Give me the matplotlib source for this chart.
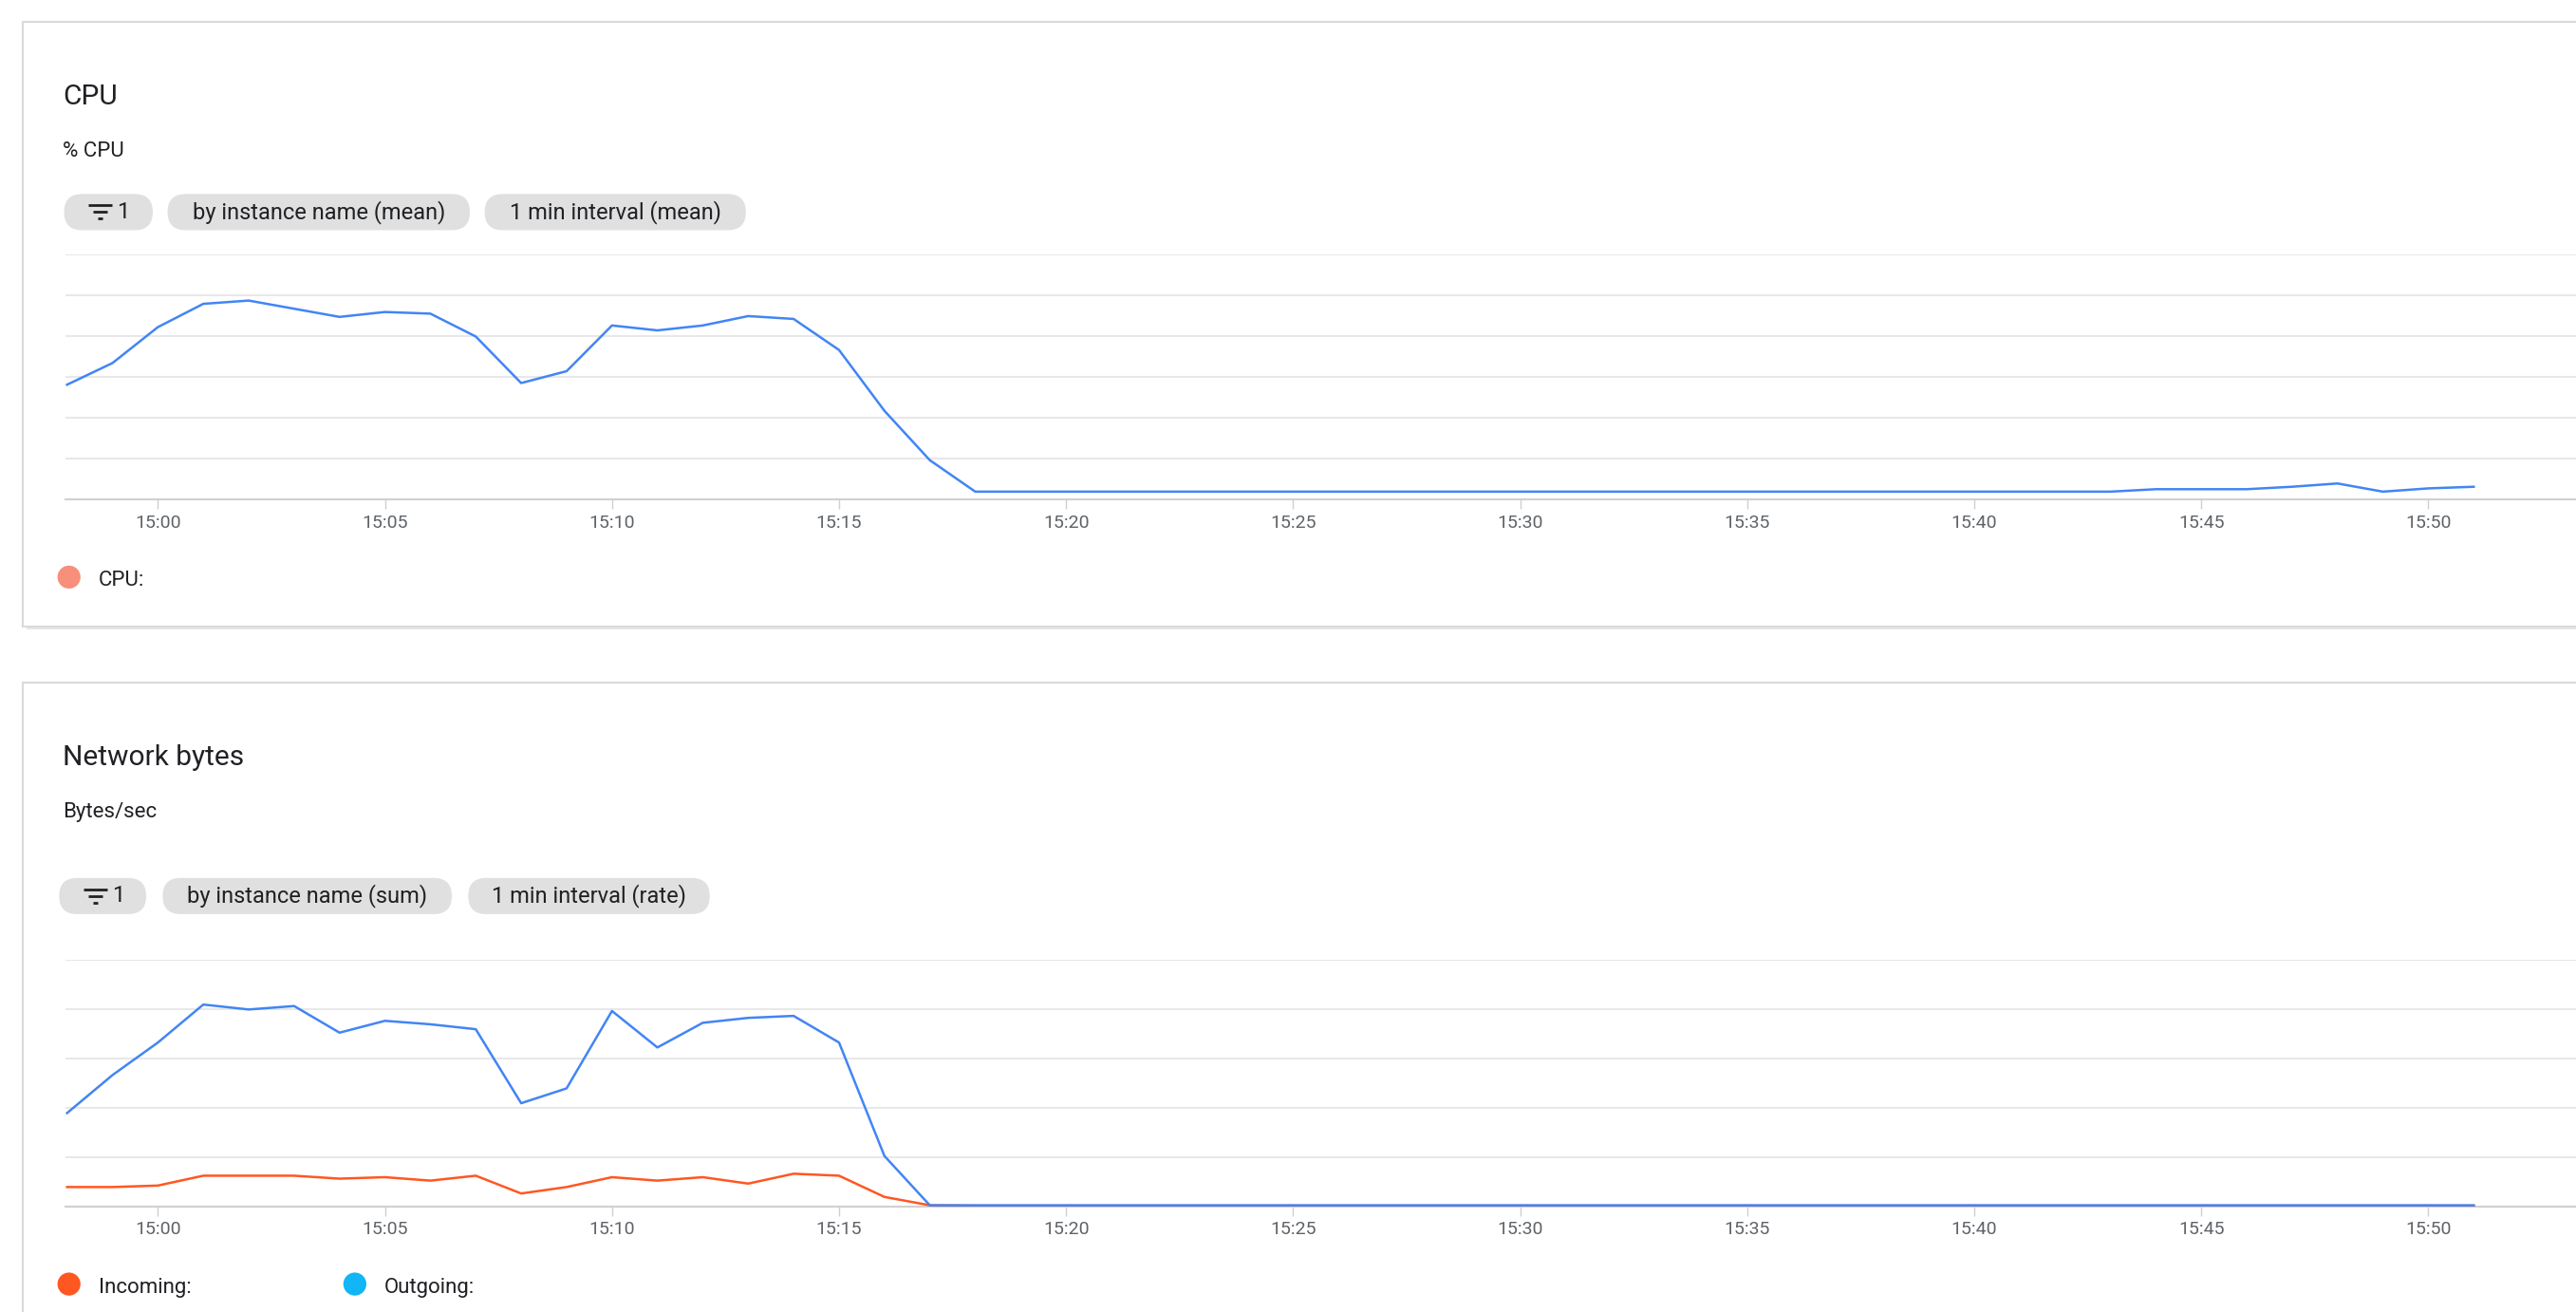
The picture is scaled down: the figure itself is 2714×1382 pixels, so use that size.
import matplotlib
matplotlib.use('Agg')
import matplotlib.pyplot as plt
from matplotlib.patches import FancyBboxPatch, Rectangle, Circle

plt.rcParams['font.family'] = ['Roboto', 'DejaVu Sans']

# ------------------------------------------------------------
# Data (minutes from 14:58, one sample per minute)
# ------------------------------------------------------------
cpu = [2.82, 3.35, 4.23, 4.80, 4.88, 4.68, 4.48, 4.60, 4.56, 4.00,
       2.86, 3.15, 4.27, 4.15, 4.27, 4.50, 4.43, 3.67, 2.18, 0.97,
       0.20, 0.20, 0.20, 0.20, 0.20, 0.20, 0.20, 0.20, 0.20, 0.20,
       0.20, 0.20, 0.20, 0.20, 0.20, 0.20, 0.20, 0.20, 0.20, 0.20,
       0.20, 0.20, 0.20, 0.20, 0.20, 0.20, 0.26, 0.26, 0.26, 0.32,
       0.40, 0.20, 0.28, 0.32]
outgoing = [1.90, 2.67, 3.33, 4.10, 4.00, 4.07, 3.53, 3.77, 3.70, 3.60,
            2.10, 2.40, 3.97, 3.23, 3.73, 3.83, 3.87, 3.33, 1.03, 0.03] + [0.03] * 34
incoming = [0.40, 0.40, 0.43, 0.63, 0.63, 0.63, 0.57, 0.60, 0.53, 0.63,
            0.27, 0.40, 0.60, 0.53, 0.60, 0.47, 0.67, 0.63, 0.20, 0.03] + [0.02] * 34
start_min = -2  # 14:58 relative to 15:00
tick_labels = ['15:00', '15:05', '15:10', '15:15', '15:20', '15:25',
               '15:30', '15:35', '15:40', '15:45', '15:50']

W, H = 1568, 798
fig = plt.figure(figsize=(27.14, 13.82), dpi=100)
bg = fig.add_axes([0, 0, 1, 1], zorder=0)
bg.set_xlim(0, W)
bg.set_ylim(H, 0)
bg.axis('off')

# cards
for top, bottom in [(13, 381), (415, 830)]:
    bg.add_patch(Rectangle((16, top + 2), W, bottom - top, facecolor='#e6e6e6', edgecolor='none'))
    bg.add_patch(Rectangle((14, top), W, bottom - top, facecolor='white', edgecolor='#dadada', lw=1.5))


def chip(x0, x1, yc, label):
    h = 22
    bg.add_patch(FancyBboxPatch((x0, yc - h / 2), x1 - x0, h,
                                boxstyle='round,pad=0,rounding_size=11',
                                facecolor='#e0e0e0', edgecolor='none'))
    if label:
        bg.text((x0 + x1) / 2, yc, label, fontsize=17, ha='center', va='center', color='#202124')


def filter_chip(x0, x1, yc):
    chip(x0, x1, yc, None)
    cx = x0 + 22
    for i, w in enumerate([7, 4.5, 1.5]):
        bg.plot([cx - w, cx + w], [yc - 4 + i * 4, yc - 4 + i * 4], color='#202124', lw=2,
                solid_capstyle='butt')
    bg.text(cx + 10, yc, '1', fontsize=17, ha='left', va='center', color='#202124')


def panel(y_title, y_sub, y_chip, sub, chips, title):
    bg.text(38, y_title, title, fontsize=21.5, ha='left', va='center', color='#202124')
    bg.text(38, y_sub, sub, fontsize=16, ha='left', va='center', color='#202124')
    filter_chip(chips[0][0], chips[0][1], y_chip)
    for x0, x1, lab in chips[1:]:
        chip(x0, x1, y_chip, lab)


panel(59, 92, 129, '% CPU',
      [(39, 93), (102, 286, 'by instance name (mean)'), (295, 454, '1 min interval (mean)')], 'CPU')
panel(461, 494, 545, 'Bytes/sec',
      [(36, 89), (99, 275, 'by instance name (sum)'), (285, 432, '1 min interval (rate)')], 'Network bytes')

# legends
bg.add_patch(Circle((42, 351), 7, facecolor='#f78f7b', edgecolor='none'))
bg.text(60, 353, 'CPU:', fontsize=16, ha='left', va='center', color='#202124')
bg.add_patch(Circle((42, 781), 7, facecolor='#ff5722', edgecolor='none'))
bg.text(60, 783, 'Incoming:', fontsize=16, ha='left', va='center', color='#202124')
bg.add_patch(Circle((216, 781), 7, facecolor='#12b5f6', edgecolor='none'))
bg.text(234, 783, 'Outgoing:', fontsize=16, ha='left', va='center', color='#202124')

px_per_min = 27.64
x_left = start_min - 0.03
x_right = x_left + (W - 40) / px_per_min


def chart(top, bottom, ymax, series):
    ax = fig.add_axes([40 / W, 1 - bottom / H, (W - 40) / W, (bottom - top) / H], zorder=1)
    ax.patch.set_alpha(0)
    for vals, color in series:
        xs = [start_min + i for i in range(len(vals))]
        ax.plot(xs, vals, color=color, lw=1.8, zorder=3)
    ax.set_xlim(x_left, x_right)
    ax.set_ylim(0, ymax)
    ax.set_yticks(range(ymax + 1))
    ax.yaxis.grid(True, color='#e8e8e8', lw=1.5)
    ax.tick_params(axis='y', left=False, labelleft=False)
    ax.set_xticks(range(0, 5 * len(tick_labels), 5))
    ax.set_xticklabels(tick_labels, fontsize=14, color='#5f6368')
    ax.tick_params(axis='x', length=7, width=1, color='#d0d0d0', pad=4)
    for s in ['top', 'left', 'right']:
        ax.spines[s].set_visible(False)
    ax.spines['bottom'].set_color('#d0d0d0')
    ax.spines['bottom'].set_linewidth(1.5)
    return ax


chart(155, 304, 6, [(cpu, '#4285f4')])
chart(584, 734, 5, [(incoming, '#ff5722'), (outgoing, '#4285f4')])

fig.savefig('out.png', dpi=100)
